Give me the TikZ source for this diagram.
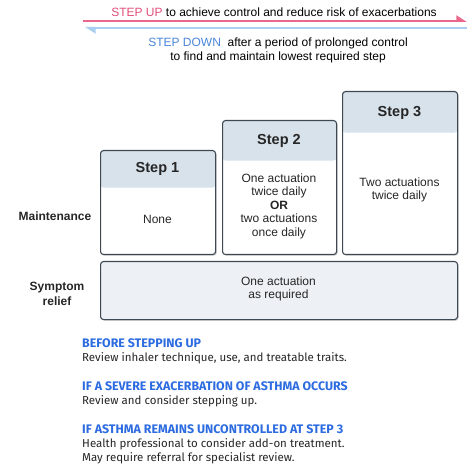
\documentclass[tikz,border=0pt]{standalone}
\usepackage{fontspec}
\setmainfont{Liberation Sans}
\newfontfamily\notefont{Fira Sans}
\usetikzlibrary{arrows.meta,shadows,positioning}
\definecolor{upred}{HTML}{E24E78}
\definecolor{upline}{HTML}{E8678B}
\definecolor{downblue}{HTML}{4A86D8}
\definecolor{downline}{HTML}{A9CFF0}
\definecolor{headfill}{HTML}{D7E2EB}
\definecolor{relieffill}{HTML}{EDF1F5}
\definecolor{boxline}{HTML}{3E4852}
\definecolor{noteblue}{HTML}{2C6BE0}

\begin{document}
\begin{tikzpicture}[x=1pt,y=-1pt]
        \tikzstyle{upline}=[draw=upline,line width=2pt,-{Triangle[harpoon,length=9pt,width=11pt]}]
        \tikzstyle{downline}=[draw=downline,line width=2pt,-{Triangle[harpoon,length=9pt,width=11pt]}]
        \tikzstyle{toptext}=[font=\fontsize{12}{14}\selectfont,align=center,inner sep=0pt]
        \tikzstyle{boxtext}=[font=\fontsize{12}{13.5}\selectfont,align=center,inner sep=0pt,text=black!85]
        \tikzstyle{headtext}=[font=\fontsize{14.5}{16}\selectfont\bfseries,inner sep=0pt,text=black!85]
        \tikzstyle{rowlabel}=[font=\fontsize{12}{15}\selectfont\bfseries,align=center,inner sep=0pt,text=black!85]
        \tikzstyle{note}=[font=\notefont\fontsize{11.5}{14.3}\selectfont,align=left,anchor=north west,inner sep=0pt,text=black!85]
        \tikzstyle{reliefbox}=[draw=boxline,line width=1.1pt,fill=relieffill,rounded corners=3pt,
                anchor=north west,inner sep=0pt,
                drop shadow={shadow xshift=1.2pt,shadow yshift=-1.2pt,opacity=0.35}]
        \tikzset{stepbox/.style={draw=boxline,line width=1.1pt,fill=white,rounded corners=3pt,
                anchor=north west,inner sep=0pt,
                drop shadow={shadow xshift=1.2pt,shadow yshift=-1.2pt,opacity=0.35},
                path picture={\fill[headfill] (path picture bounding box.north west)
                        rectangle ([yshift=-#1]path picture bounding box.north east);}}}
        \newcommand{\notehead}[1]{\textcolor{noteblue}{\fontsize{12.4}{14.3}\selectfont\bfseries #1}}

        \useasboundingbox (0,0) rectangle (474,473);

        % step up / step down
        \coordinate (upL) at (83,21);
        \coordinate (upR) at (467,21);
        \coordinate (dnL) at (85,28);
        \coordinate (dnR) at (467,28);
        \path (upL) edge[upline] (upR)
              (dnR) edge[downline] (dnL);
        \node[toptext] (stepup)   at (274,12) {\textcolor{upred}{STEP UP} to achieve control and reduce risk of exacerbations};
        \node[toptext] (stepdown) at (278,50) {\textcolor{downblue}{STEP DOWN}\ \ after a period of prolonged control\\
                                               to find and maintain lowest required step};

        % steps
        \node[stepbox=37pt,minimum width=115pt,minimum height=104pt] (s1) at (100,150) {};
        \node[stepbox=40pt,minimum width=114pt,minimum height=134pt] (s2) at (222,120) {};
        \node[stepbox=41pt,minimum width=115pt,minimum height=163pt] (s3) at (342,91)  {};
        \node[headtext] (s1h) at (157.5,169) {Step 1};
        \node[headtext] (s2h) at (279,141)   {Step 2};
        \node[headtext] (s3h) at (399.5,113) {Step 3};
        \node[boxtext]  (s1b) at (157.5,219) {None};
        \node[boxtext]  (s2b) at (279,206)   {One actuation\\twice daily\\\textbf{OR}\\two actuations\\once daily};
        \node[boxtext]  (s3b) at (399.5,190) {Two actuations\\twice daily};

        % symptom relief
        \node[reliefbox,minimum width=357pt,minimum height=58pt] (rel) at (100,261) {};
        \node[boxtext]  (relb) at (278.5,289) {One actuation\\as required};

        \node[rowlabel] (maint) at (55,216) {Maintenance};
        \node[rowlabel] (sympt) at (57,294) {Symptom\\relief};

        % notes
        \node[note] (n1) at (82,338) {\notehead{BEFORE STEPPING UP}\\
                Review inhaler technique, use, and treatable traits.};
        \node[note] (n2) at (82,381) {\notehead{IF A SEVERE EXACERBATION OF ASTHMA OCCURS}\\
                Review and consider stepping up.};
        \node[note] (n3) at (82,424) {\notehead{IF ASTHMA REMAINS UNCONTROLLED AT STEP 3}\\
                Health professional to consider add-on treatment.\\
                May require referral for specialist review.};
\end{tikzpicture}
\end{document}
